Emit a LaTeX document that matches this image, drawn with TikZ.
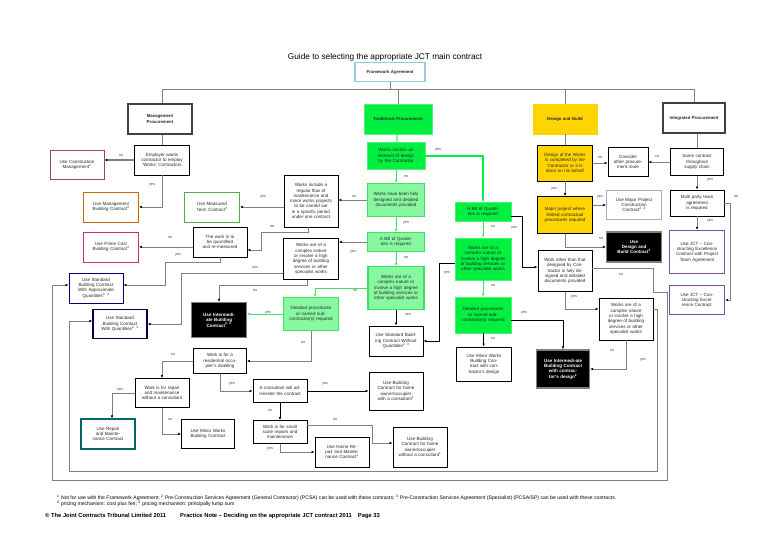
\documentclass[tikz,border=0pt]{standalone}
\usepackage{fontspec}
\setmainfont{Liberation Sans}
\usetikzlibrary{calc,arrows.meta}
\definecolor{tgreen}{HTML}{00F040}
\definecolor{lgreen}{HTML}{88F8A0}
\definecolor{lgb}{HTML}{40E060}
\definecolor{dby}{HTML}{FFD400}
\definecolor{purp}{HTML}{7A4FA0}
\definecolor{lpurp}{HTML}{B9A0D0}
\begin{document}
\begin{tikzpicture}[x=1pt,y=-1pt,
 base/.style={draw,line width=0.9pt,fill=white,align=center,inner sep=1pt,font=\fontsize{4.5}{5.3}\selectfont,text=black!85},
 bx/.style 2 args={base,minimum width=#1,minimum height=#2,text width=#1-11},
 tg/.style={fill=tgreen,draw=tgreen!70!white},
 lg/.style={fill=lgreen,draw=lgb,line width=1.2pt},
 yb/.style={fill=dby,draw=black},
 bk/.style={fill=black,draw=gray,line width=1.2pt,text=white,font=\fontsize{4.5}{5.4}\selectfont\bfseries},
 hd/.style={line width=1.8pt,draw=black!75},
 ln/.style={draw=gray,line width=0.8pt,-{Latex[length=3pt,width=2.6pt,fill=black,color=black]}},
 gl/.style={draw=lgb,line width=0.9pt,-{Latex[length=3pt,width=2.6pt,color=lgb]}},
 pl/.style={draw=gray,line width=0.8pt},
 lb/.style={font=\fontsize{3.8}{4}\selectfont,text=black!70,inner sep=0pt}]
\useasboundingbox (0,0) rectangle (768,543);
\fill[white] (0,0) rectangle (768,543);
\node[font=\fontsize{8.3}{10}\selectfont] (title) at (385,57) {Guide to selecting the appropriate JCT main contract};
% top level
\node[bx={70}{19},draw=cyan!45!teal!45,line width=1.5pt,font=\fontsize{4.3}{5}\selectfont\bfseries] (fw) at (390,72) {Framework Agreement};
\node[bx={64}{30},hd,font=\fontsize{4.3}{5.2}\selectfont\bfseries] (mgmt) at (160,119) {Management Procurement};
\node[bx={68}{30},tg,font=\fontsize{4.3}{5.2}\selectfont\bfseries] (trad) at (398,119) {Traditional Procurement};
\node[bx={64}{30},fill=dby,draw=dby,font=\fontsize{4.3}{5.2}\selectfont\bfseries] (db) at (565,119) {Design and Build};
\node[bx={62}{30},hd,font=\fontsize{4.3}{5.2}\selectfont\bfseries] (integ) at (694,118) {Integrated Procurement};
\coordinate (hl) at (162,89); \coordinate (hr) at (694,89);
\draw[pl] (fw.south) -- (fw.south|-hl);
\draw[pl] (hl) -- (hr);
\draw[pl] (hl) -- (hl|-mgmt.north);
\draw[pl] (trad.north|-hl) -- (trad.north);
\draw[pl] (db.north|-hl) -- (db.north);
\draw[pl] (hr) -- (hr|-integ.north);
% management column
\node[bx={55}{30}] (emp) at (162,160) {Employer wants contractor to employ `Works' Contractors};
\node[bx={54}{29},draw=red!40!black!70] (cm) at (77,165) {Use Construction Management\textsuperscript{1}};
\node[bx={55}{30},draw=orange!80!black] (mbc) at (111,207) {Use Management Building Contract\textsuperscript{3}};
\node[bx={55}{30},draw=green!55!black!70] (mtc) at (212,207) {Use Measured Term Contract\textsuperscript{3}};
\node[bx={54}{52}] (rf) at (311,201) {Works include a regular flow of maintenance and minor works projects to be carried out in a specific period under one contract};
\node[bx={54}{30}] (quant) at (220,242) {The work is to be quantified and re-measured};
\node[bx={55}{30},draw=magenta!80!black] (prime) at (111,247) {Use Prime Cost Building Contract\textsuperscript{4}};
\node[bx={55}{41}] (cxL) at (311,259) {Works are of a complex nature or involve a high degree of building services or other specialist works};
\node[bx={54}{30},draw=blue!40!black] (approx) at (96,288) {Use Standard Building Contract With Approximate Quantities\textsuperscript{2, 3}};
\node[bx={54}{29},draw=blue!30!black,line width=1.3pt] (wq) at (120,324) {Use Standard Building Contract With Quantities\textsuperscript{2, 3}};
\node[bx={55}{35},bk] (ibc) at (219,320) {Use Intermedi-ate Building Contract\textsuperscript{2, 3}};
\node[bx={55}{33},lg] (dL) at (311,314) {Detailed procedures or named sub-contractor(s) required};
% traditional column
\node[bx={58}{27},tg] (wc) at (396,156) {Works contain an element of design by the Contractor};
\node[bx={57}{33},lg] (fd) at (396,200) {Works have been fully designed and detailed documents provided};
\node[bx={57}{19},lg] (boqL) at (396,242) {A Bill of Quantities is required};
\node[bx={56}{43},lg] (cxT) at (396,288) {Works are of a complex nature or involve a high degree of building services or other specialist works};
\node[bx={54}{30}] (swq) at (396,341) {Use Standard Building Contract Without Quantities\textsuperscript{2, 3}};
\node[bx={56}{19},tg] (boqR) at (483,212) {A Bill of Quantities is required};
\node[bx={56}{42},tg] (cxR) at (483,259) {Works are of a complex nature or involve a high degree of building services or other specialist works};
\node[bx={56}{36},tg] (dR) at (483,315) {Detailed procedures or named sub-contractor(s) required};
\node[bx={55}{34}] (mwcd) at (484,364) {Use Minor Works Building Contract with contractor's design};
% design and build
\node[bx={55}{36},yb] (dw) at (565,163) {Design of the Works is completed by the Contractor or it is done on his behalf};
\node[bx={55}{37},yb] (major) at (565,215) {Major project where limited contractual procedures required};
\node[bx={40}{29}] (cons) at (628,162) {Consider other procurement route};
\node[bx={55}{29},draw=lpurp] (mpc) at (634,205) {Use Major Project Construction Contract\textsuperscript{2, 3}};
\node[bx={55}{30},bk] (dbc) at (634,247) {Use\\Design and\\Build Contract\textsuperscript{2}};
\node[bx={54}{41}] (woth) at (565,271) {Work other than that designed by Contractor is fully designed and detailed documents provided};
\node[bx={54}{42}] (cxD) at (626,319) {Works are of a complex nature or involve a high degree of building services or other specialist works};
\node[bx={53}{38},bk] (icd) at (563,369) {Use Intermedi-ate Building Contract with contractor's design\textsuperscript{2}};
% integrated
\node[bx={53}{27}] (same) at (697,162) {Same contract throughout supply chain};
\node[bx={54}{26}] (multi) at (697,203) {Multi party team agreement is required};
\node[bx={55}{43},draw=purp,line width=1.2pt] (cePTA) at (697,252) {Use JCT -- Constructing Excellence Contract with Project Team Agreement};
\node[bx={55}{29},draw=purp,line width=1.2pt] (ce) at (697,300) {Use JCT -- Constructing Excellence Contract};
% bottom
\node[bx={53}{25}] (res) at (220,361) {Work is for a residential occupier's dwelling};
\node[bx={54}{29}] (rep) at (162,393) {Work is for repair and maintenance without a consultant};
\node[bx={54}{23}] (cons2) at (280,391) {A consultant will administer the contract};
\node[bx={54}{38}] (homeC) at (396,391) {Use Building Contract for home owner/occupier with a consultant\textsuperscript{1}};
\node[bx={54}{30},draw=teal!80!black,line width=1.2pt] (repc) at (108,434) {Use Repair and Maintenance Contract};
\node[bx={53}{29}] (minor) at (208,434) {Use Minor Works Building Contract};
\node[bx={54}{23}] (small) at (280,432) {Work is for small scale repairs and maintenance};
\node[bx={54}{30}] (homeR) at (342,452) {Use Home Repair and Maintenance Contract\textsuperscript{1}};
\node[bx={54}{40}] (woc) at (420,447) {Use Building Contract for home owner/occupier without a consultant\textsuperscript{1}};
% connectors management
\draw[pl] (mgmt.south-|emp.north) -- (emp.north);
\draw[ln,line width=1.2pt] (emp.west) -- (emp.west-|cm.east);
\node[lb] at (121,155) {no};
\draw[ln] (emp.south) |- (mbc.east);
\node[lb] at (152,185) {yes};
\draw[ln] (fd.west) -- (fd.west-|rf.east);
\node[lb] at (354,196) {no};
\draw[ln] (rf.west|-mtc.east) -- (mtc.east);
\node[lb] at (263,197) {yes};
\draw[ln] ($(rf.south)+(-3,0)$) -- ++(0,5) -| ($(quant.east)+(14,8)$) -- ($(quant.east)+(0,8)$);
\node[lb] at (272,226) {no};
\draw[ln] (quant.west|-prime.east) -- (prime.east);
\node[lb] at (170,237) {no};
\draw[ln] (quant.south) -- ++(0,5) -| ($(approx.east)+(42,-3)$) -- ($(approx.east)+(0,-3)$);
\node[lb] at (178,255) {yes};
\draw[ln] ($(cxL.west)+(0,14)$) -| ($(wq.east)+(34,0)$) -- (wq.east);
\node[lb] at (255,268) {yes};
\draw[ln] ($(cxL.south)+(-4,0)$) -- ++(0,5) -| (ibc.north);
\node[lb] at (255,290) {no};
\draw[ln] (boqL.west) -- (boqL.west-|cxL.east);
\node[lb] at (353,252) {yes};
\draw[gl] (cxT.west) -| ($(dL.north)+(4,0)$);
\node[lb] at (355,290) {no};
\draw[gl] (dL.west) -- (dL.west-|ibc.east);
\node[lb] at (268,313) {yes};
\draw[ln] (dL.south) |- (res.east);
\node[lb] at (303,342) {no};
% traditional connectors
\draw[line width=1pt,draw=tgreen] (trad) -- (wc);
\draw[gl] (wc) -- (fd);
\node[lb] at (406,176) {no};
\draw[gl] (fd) -- (boqL);
\node[lb] at (406,223) {yes};
\draw[gl] (boqL) -- (cxT);
\node[lb] at (406,257) {no};
\draw[ln,draw=black] (cxT) -- (swq);
\node[lb] at (408,315) {yes};
\draw[gl,draw=tgreen,line width=1.4pt] (wc.east) -| (boqR.north);
\node[lb] at (438,150) {yes};
\draw[gl] (boqR) -- (cxR);
\node[lb] at (493,226) {no};
\draw[ln,draw=black] ($(boqR.east)+(0,4)$) -| ($(woth.west)+(-15,-4)$) -- ($(woth.west)+(0,-4)$);
\node[lb] at (514,228) {yes};
\draw[ln,draw=black] ($(cxR.west)+(0,4)$) -| ($(swq.east)+(16,0)$) -- (swq.east);
\node[lb] at (447,273) {yes};
\draw[gl] (cxR) -- (dR);
\node[lb] at (493,285) {no};
\draw[ln,draw=black] (dR) -- (mwcd);
\node[lb] at (493,338) {no};
\draw[ln,draw=black] ($(dR.east)+(0,5)$) -| (icd.north);
\node[lb] at (524,313) {yes};
% design and build connectors
\draw[pl] (db) -- (dw);
\draw[ln] (dw.east) -- (dw.east-|cons.west);
\node[lb] at (600,157) {no};
\draw[ln] (dw) -- (major);
\node[lb] at (554,189) {yes};
\draw[ln] (major.east|-mpc.west) -- (mpc.west);
\node[lb] at (600,197) {yes};
\draw[ln] (major.south) |- (dbc.west);
\node[lb] at (601,238) {no};
\draw[ln] (woth.south) |- ($(cxD.west)+(0,-10)$);
\node[lb] at (574,297) {yes};
\draw[ln] ($(woth.east)+(0,-3)$) -- ++(61,0) -- ++(0,24) -- ++(14,0) -- ++(0,188) -| ($(approx.west)+(-16,-3)$) -- ($(approx.west)+(0,-3)$);
\node[lb] at (621,274) {no};
\draw[ln] ($(cxD.east)+(0,-10)$) -- ++(4,0) -- ++(0,162) -| ($(wq.west)+(-23,-3)$) -- ($(wq.west)+(0,-3)$);
\node[lb] at (643,360) {yes};
\draw[ln] (cxD.south) |- (icd.east);
\node[lb] at (612,350) {no};
% integrated connectors
\draw[pl] (integ.south-|same.north) -- (same.north);
\draw[ln] (same.west) -- (same.west-|cons.east);
\node[lb] at (657,156) {no};
\draw[ln] (same) -- (multi);
\node[lb] at (710,180) {yes};
\draw[ln] (multi) -- (cePTA);
\node[lb] at (710,221) {yes};
\draw[ln] (multi.east) -- ++(6,0) |- (ce.east);
\node[lb] at (736,196) {no};
% bottom connectors
\draw[ln] (res.west) -| (rep.north);
\node[lb] at (173,354) {no};
\draw[ln] (res.south) |- (cons2.west);
\node[lb] at (232,384) {yes};
\draw[ln,draw=black] (cons2.east) -- (homeC.west);
\node[lb] at (325,384) {yes};
\draw[ln,draw=black] (cons2) -- (small);
\node[lb] at (270,410) {no};
\draw[ln] (rep.west) -| ($(repc.north)+(4,0)$);
\node[lb] at (120,390) {yes};
\draw[ln] (rep.south) |- (minor.west);
\node[lb] at (170,419) {no};
\draw[ln] (small.south) |- (homeR.west);
\node[lb] at (270,449) {yes};
\draw[ln] ($(small.east)+(0,-7)$) -| ($(woc.west)+(-20,-4)$) -- ($(woc.west)+(0,-4)$);
\node[lb] at (335,419) {no};
% footnotes
\node[anchor=west,font=\fontsize{5.1}{6.5}\selectfont,align=left,inner sep=0pt] (fn) at (57,501) {\textsuperscript{1} Not for use with the Framework Agreement; \textsuperscript{2} Pre-Construction Services Agreement (General Contractor) (PCSA) can be used with these contracts; \textsuperscript{3} Pre-Construction Services Agreement (Specialist) (PCSA/SP) can be used with these contracts.\\ \textsuperscript{4} pricing mechanism: cost plus fee; \textsuperscript{5} pricing mechanism: principally lump sum};
\node[anchor=west,font=\fontsize{5.8}{6}\selectfont\bfseries,inner sep=0pt] (copy) at (45,516) {\textcopyright{} The Joint Contracts Tribunal Limited 2011\hspace{14pt}Practice Note -- Deciding on the appropriate JCT contract 2011\hspace{6pt}Page 33};
\end{tikzpicture}
\end{document}
